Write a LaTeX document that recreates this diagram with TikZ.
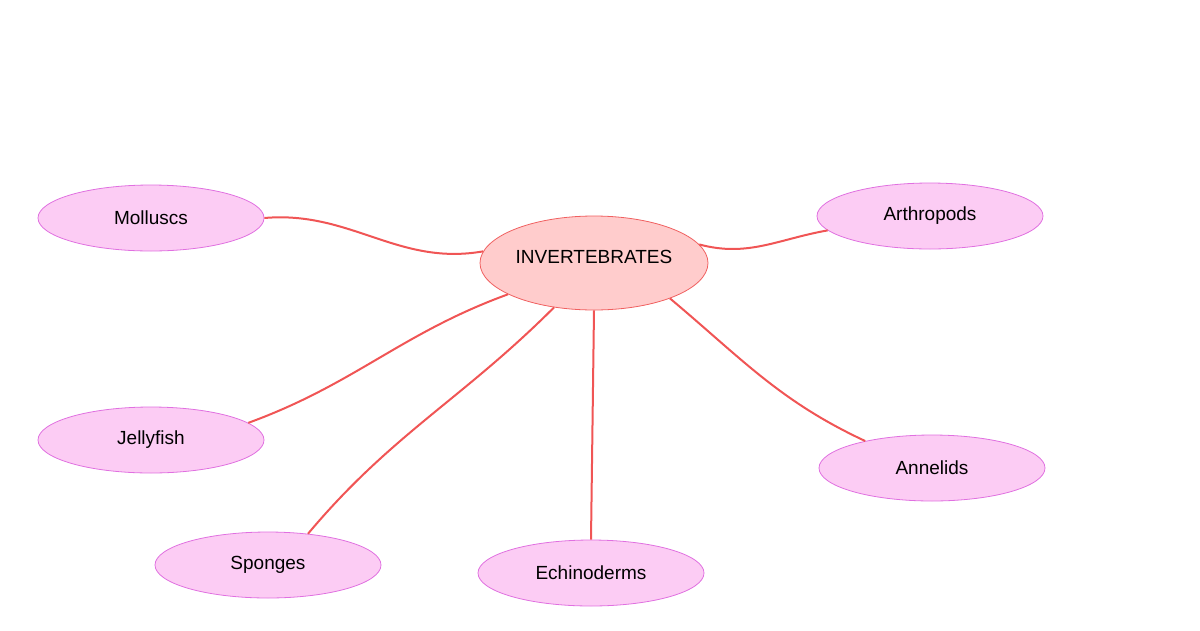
\documentclass[tikz,border=0pt]{standalone}
\usepackage{fontspec}
\setmainfont{Liberation Sans}
\usetikzlibrary{shapes.geometric}
\definecolor{leaf}{HTML}{FCCCF4}
\definecolor{leafb}{HTML}{E070E0}
\definecolor{hub}{HTML}{FFCCCC}
\definecolor{hubb}{HTML}{F06060}
\definecolor{wire}{HTML}{F05555}
\tikzset{
 leafnode/.style={ellipse,fill=leaf,draw=leafb,line width=0.8pt,minimum width=226pt,minimum height=66pt,inner sep=0pt,font=\fontsize{19}{22}\selectfont},
 hubnode/.style={ellipse,fill=hub,draw=hubb,line width=0.8pt,minimum width=228pt,minimum height=94pt,inner sep=0pt,font=\fontsize{19}{22}\selectfont},
 wirel/.style={draw=wire,line width=2pt}
}
\begin{document}
\begin{tikzpicture}[x=1pt,y=-1pt]
\useasboundingbox (0,0) rectangle (1200,630);
\node[hubnode] (c) at (594,263) {\raisebox{12pt}{INVERTEBRATES}};
\node[leafnode] (m) at (151,218) {Molluscs};
\node[leafnode] (a) at (930,216) {Arthropods};
\node[leafnode] (j) at (151,440) {Jellyfish};
\node[leafnode] (n) at (932,468) {Annelids};
\node[leafnode] (s) at (268,565) {Sponges};
\node[leafnode] (e) at (591,573) {Echinoderms};
\draw[wirel] (c.174) to[out=190,in=5] (m.east);
\draw[wirel] (c.10) to[out=-15,in=190] (a.188);
\draw[wirel] (c.200) to[out=200,in=20] (j.10);
\draw[wirel] (c.228) to[out=225,in=50] (s.38);
\draw[wirel] (c.south) -- (e.north);
\draw[wirel] (c.-25) to[out=-40,in=155] (n.158);
\end{tikzpicture}
\end{document}
